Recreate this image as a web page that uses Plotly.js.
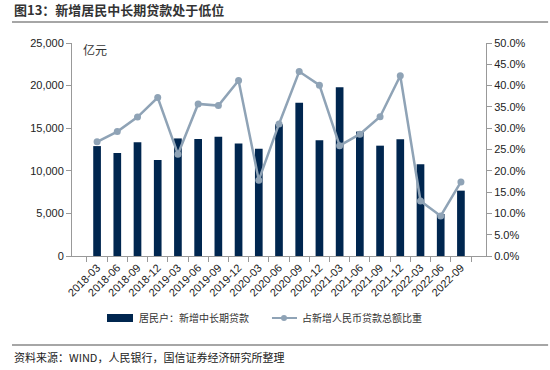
<!DOCTYPE html>
<html>
<head>
<meta charset="utf-8">
<script src="https://cdn.plot.ly/plotly-3.0.1.min.js"></script>
<style>html,body{margin:0;padding:0;background:#fff;}#chart{width:550px;height:370px;}</style>
</head>
<body>
<div id="chart"></div>
<script>
const categories = ["2018-03","2018-06","2018-09","2018-12","2019-03","2019-06","2019-09","2019-12","2020-03","2020-06","2020-09","2020-12","2021-03","2021-06","2021-09","2021-12","2022-03","2022-06","2022-09"];
const newLoans = [12900,12100,13350,11270,13800,13730,14000,13200,12600,15450,18000,13600,19800,14600,12950,13700,10760,4930,7670];
const sharePct = [26.8,29.2,32.6,37.2,23.9,35.7,35.3,41.2,17.8,31.0,43.3,40.1,25.9,28.6,32.7,42.3,12.9,9.4,17.4];
const leftTicks = [0,5000,10000,15000,20000,25000];
const rightTicks = [0,5,10,15,20,25,30,35,40,45,50];
const rightTickText = rightTicks.map(v => v.toFixed(1) + '%');
const seriesNames = ['居民户：新增中长期贷款','占新增人民币贷款总额比重'];

const latin = '"Liberation Sans", Arial, sans-serif';
const cjk = '"Noto Sans CJK SC", sans-serif';
const barColor = '#00264F';
const lineColor = '#8FA3B6';

const traces = [
  {type:'bar', x:categories, y:newLoans, name:seriesNames[0],
   marker:{color:barColor}, width:0.38, yaxis:'y'},
  {type:'scatter', mode:'lines+markers', x:categories, y:sharePct, name:seriesNames[1],
   line:{color:lineColor, width:2.5}, marker:{color:lineColor, size:7}, yaxis:'y2'}
];

const layout = {
  width:550, height:370,
  margin:{l:72, r:64, t:43, b:114},
  paper_bgcolor:'#fff', plot_bgcolor:'#fff',
  showlegend:false,
  font:{family:latin, size:11, color:'#333'},
  xaxis:{type:'category', tickangle:-45, showline:true, linecolor:'#999', linewidth:1,
    ticks:'outside', tickson:'boundaries', ticklen:5, tickcolor:'#999',
    tickfont:{family:latin, size:11, color:'#222'}, showgrid:false, zeroline:false},
  yaxis:{range:[0,25000], tickvals:leftTicks, tickformat:',d', showline:true, linecolor:'#999',
    ticks:'outside', ticklen:5, tickcolor:'#999', showgrid:false, zeroline:false,
    tickfont:{family:latin, size:11, color:'#222'}},
  yaxis2:{range:[0,50], tickvals:rightTicks, ticktext:rightTickText, overlaying:'y', side:'right',
    showline:true, linecolor:'#999', ticks:'outside', ticklen:5, tickcolor:'#999', showgrid:false, zeroline:false,
    tickfont:{family:latin, size:11, color:'#222'}},
  shapes:[
    {type:'line', xref:'paper', yref:'paper', x0:-0.145, x1:1.15, y0:1.099, y1:1.099, line:{color:'#888', width:1.5}},
    {type:'line', xref:'paper', yref:'paper', x0:-0.145, x1:1.15, y0:-0.418, y1:-0.418, line:{color:'#888', width:1.5}},
    {type:'rect', xref:'paper', yref:'paper', x0:0.0845, x1:0.1473, y0:-0.2723, y1:-0.3099, fillcolor:barColor, line:{width:0}},
    {type:'line', xref:'paper', yref:'paper', x0:0.483, x1:0.5435, y0:-0.291, y1:-0.291, line:{color:lineColor, width:2}},
    {type:'circle', xref:'paper', yref:'paper', x0:0.5048, x1:0.5193, y0:-0.277, y1:-0.305, fillcolor:lineColor, line:{width:0}}
  ],
  annotations:[
    {xref:'paper', yref:'paper', x:-0.145, y:1.155, xanchor:'left', yanchor:'middle', showarrow:false,
     text:'<b>图13：新增居民中长期贷款处于低位</b>', font:{family:cjk, size:13, color:'#333'}},
    {xref:'paper', yref:'paper', x:0.022, y:0.97, xanchor:'left', yanchor:'middle', showarrow:false,
     text:'亿元', font:{family:cjk, size:12, color:'#333'}},
    {xref:'paper', yref:'paper', x:0.157, y:-0.291, xanchor:'left', yanchor:'middle', showarrow:false,
     text:seriesNames[0], font:{family:cjk, size:10, color:'#333'}},
    {xref:'paper', yref:'paper', x:0.5507, y:-0.291, xanchor:'left', yanchor:'middle', showarrow:false,
     text:seriesNames[1], font:{family:cjk, size:10, color:'#333'}},
    {xref:'paper', yref:'paper', x:-0.145, y:-0.475, xanchor:'left', yanchor:'middle', showarrow:false,
     text:'资料来源：WIND，人民银行，国信证券经济研究所整理', font:{family:cjk, size:11, color:'#222'}}
  ]
};

Plotly.newPlot('chart', traces, layout, {displayModeBar:false, staticPlot:true});
</script>
</body>
</html>
